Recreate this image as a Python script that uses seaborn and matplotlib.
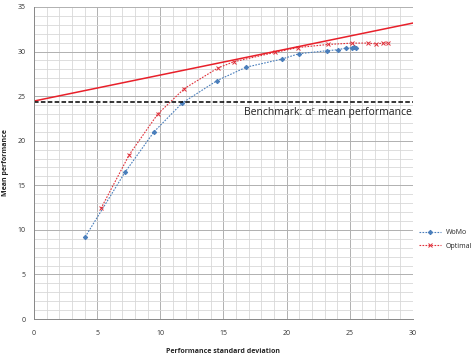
import numpy as np
import pandas as pd
import matplotlib
matplotlib.use("Agg")
import matplotlib.pyplot as plt
from matplotlib.ticker import MultipleLocator
import seaborn as sns

# WoMo series
womo_sd = [4.05, 7.2, 9.5, 11.75, 14.5, 16.8, 19.6, 20.95, 23.2, 24.05, 24.7, 25.15, 25.35, 25.5]
womo_mean = [9.2, 16.45, 21.0, 24.25, 26.75, 28.25, 29.15, 29.75, 30.1, 30.2, 30.4, 30.4, 30.5, 30.45]

# Optimal series
opt_sd = [5.3, 7.55, 9.8, 11.9, 14.55, 15.8, 19.05, 20.9, 23.3, 25.2, 26.45, 27.1, 27.6, 28.0]
opt_mean = [12.4, 18.45, 23.0, 25.85, 28.15, 28.85, 29.9, 30.45, 30.8, 30.95, 30.95, 30.85, 30.95, 30.95]

# tangent line and benchmark
tangent_x = [0, 30]
tangent_y = [24.45, 33.2]
benchmark = 24.3

sns.set_style("white")
plt.rcParams["font.family"] = ["Open Sans", "DejaVu Sans"]

fig = plt.figure(figsize=(4.74, 3.55), dpi=100)
ax = fig.add_axes([0.0717, 0.1014, 0.7996, 0.8789])

blue = "#4a7ebb"
red = "#e0303a"

df_w = pd.DataFrame({"sd": womo_sd, "mean": womo_mean})
df_o = pd.DataFrame({"sd": opt_sd, "mean": opt_mean})

sns.lineplot(data=df_w, x="sd", y="mean", sort=False, ax=ax, color=blue,
             linestyle=(0, (1.5, 1.2)), linewidth=0.8, marker="D", markersize=2.2,
             markeredgecolor=blue, label="WoMo")
sns.lineplot(data=df_o, x="sd", y="mean", sort=False, ax=ax, color=red,
             linestyle=(0, (1.5, 1.2)), linewidth=0.8, marker="x", markersize=3.4,
             markeredgewidth=0.7, markeredgecolor=red, label="Optimal")
sns.lineplot(x=tangent_x, y=tangent_y, ax=ax, color="#e8202a", linewidth=1.1)
ax.axhline(benchmark, color="black", linestyle=(0, (3, 1.5)), linewidth=1.1)
ax.text(29.95, benchmark - 0.5, "Benchmark: \u03b1\u1d9c mean performance", ha="right", va="top",
        fontsize=7.5, color="#222222")

ax.set_xlim(0, 30)
ax.set_ylim(0, 35)
ax.xaxis.set_major_locator(MultipleLocator(5))
ax.yaxis.set_major_locator(MultipleLocator(5))
ax.xaxis.set_minor_locator(MultipleLocator(1))
ax.yaxis.set_minor_locator(MultipleLocator(1))
ax.grid(which="minor", color="#d8d8d8", linewidth=0.6)
ax.grid(which="major", color="#b0b0b0", linewidth=0.7)
ax.set_axisbelow(True)
for s in ["top", "right"]:
    ax.spines[s].set_visible(False)
for s in ["left", "bottom"]:
    ax.spines[s].set_color("#888888")
    ax.spines[s].set_linewidth(0.7)
ax.tick_params(which="both", direction="out", length=2, width=0.5, color="#888888",
               labelsize=5, labelcolor="#333333", pad=4)
ax.tick_params(axis="x", which="minor", length=0)
ax.tick_params(axis="y", which="minor", length=2)
ax.tick_params(axis="x", which="major", length=0, pad=8)

ax.set_xlabel("Performance standard deviation", fontsize=5, fontweight="bold", labelpad=8)
ax.set_ylabel("Mean performance", fontsize=5, fontweight="bold", labelpad=6)

ax.legend(loc="center left", bbox_to_anchor=(1.0, 0.255), frameon=False, fontsize=5,
          handlelength=3.2, handletextpad=0.6, labelspacing=0.9)

fig.savefig("out.png", dpi=100)
